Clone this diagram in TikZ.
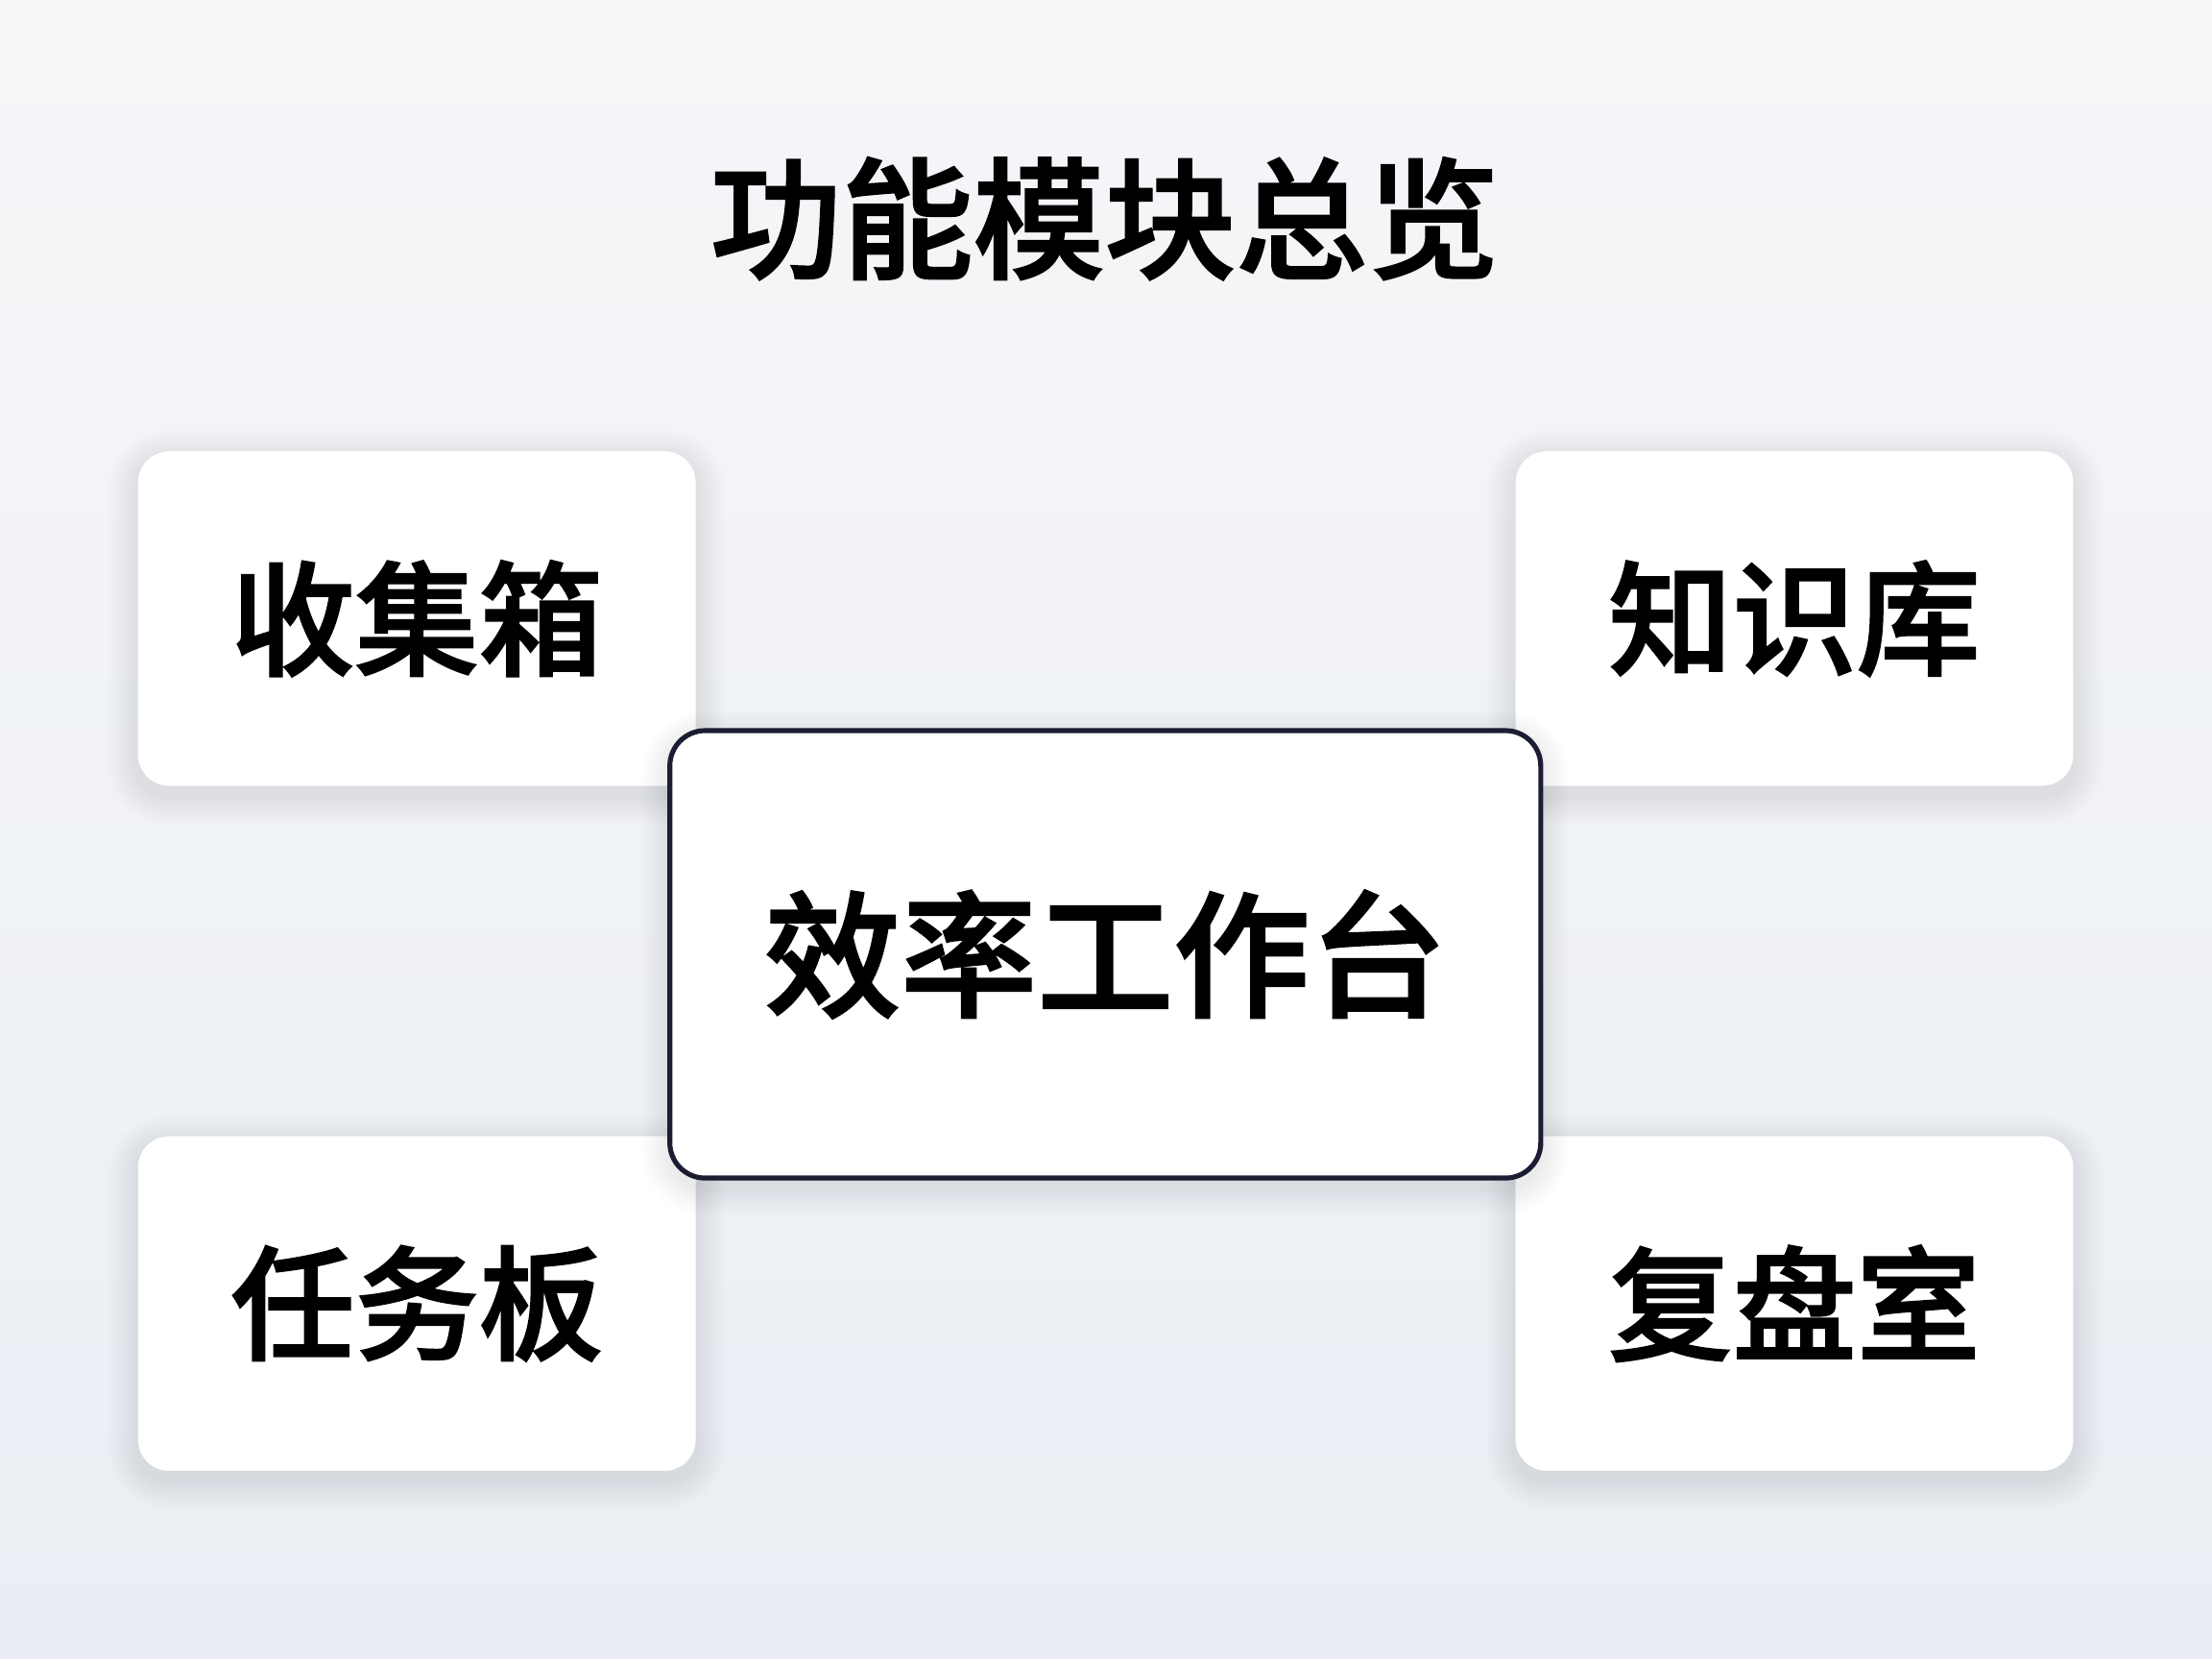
\documentclass[tikz,border=0pt]{standalone}
\usepackage{fontspec}
\newfontfamily\cjk{Noto Sans CJK SC Medium}[RawFeature={embolden=1.6}]
\usetikzlibrary{backgrounds}
\definecolor{bgtop}{HTML}{F5F6F8}
\definecolor{bgbottom}{HTML}{EAEEF4}
\definecolor{hubline}{HTML}{1B1D33}
\definecolor{shadowtone}{HTML}{5A6480}

\begin{document}
\begin{tikzpicture}
    [x=0.01cm, y=-0.01cm,
    module/.style={rectangle, rounded corners=0.22cm, fill=white,
        minimum width=3.95cm, minimum height=2.37cm,
        font=\cjk\fontsize{25}{30}\selectfont},
    hub/.style={module, rounded corners=0.25cm, draw=hubline, line width=1pt,
        minimum width=6.17cm, minimum height=3.17cm,
        font=\cjk\fontsize{27.5}{32}\selectfont},
    heading/.style={font=\cjk\fontsize{26.5}{32}\selectfont},
    softshadow/.style={fill=shadowtone, opacity=0.01}]
    \useasboundingbox (0,0) rectangle (1568,1176);
    \node [heading] (title) at (783,155) {功能模块总览};
    % four modules
    \node [module] (inbox) at (295.5,438.5) {收集箱};
    \node [module] (wiki) at (1272,438.5) {知识库};
    \node [module] (tasks) at (295.5,924) {任务板};
    \node [module] (review) at (1272,924) {复盘室};
    % soft shadows, then the page behind everything
    \begin{scope}[on background layer]
        \shade [top color=bgtop, bottom color=bgbottom] (0,0) rectangle (1568,1176);
        \foreach \n in {inbox,wiki,tasks,review}
            \foreach \s in {2,4,...,20}
                \fill [softshadow, rounded corners=0.22cm+\s*0.01cm]
                    ([shift={(-\s,-\s+6)}]\n.north west) rectangle ([shift={(\s,\s+6)}]\n.south east);
    \end{scope}
    % workbench in the middle
    \foreach \s in {2,4,...,20}
        \fill [softshadow, rounded corners=0.25cm+\s*0.01cm]
            (475-\s,518-\s+6) rectangle (1092+\s,835+\s+6);
    \node [hub] (bench) at (783.5,676.5) {效率工作台};
\end{tikzpicture}
\end{document}
